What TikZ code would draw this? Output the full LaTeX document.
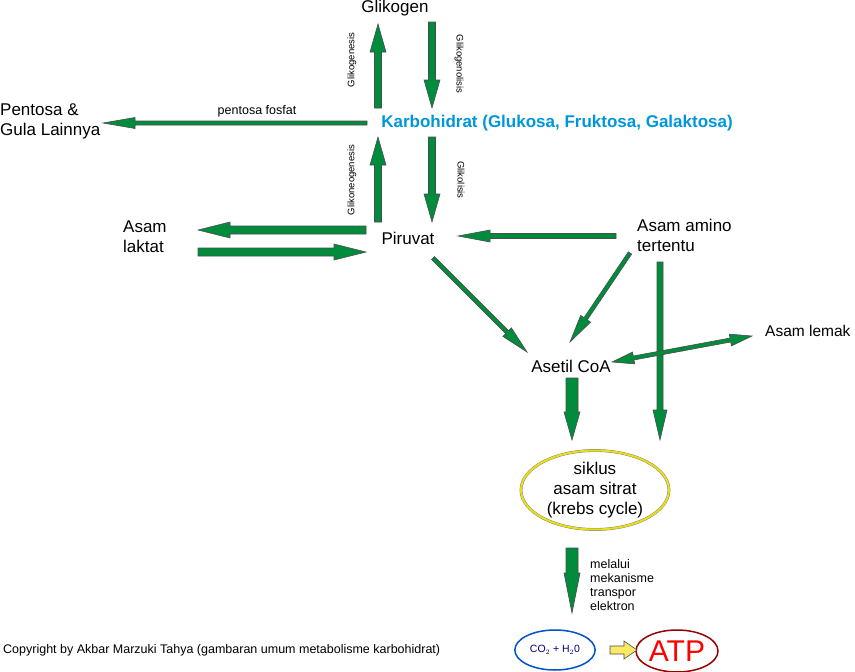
\documentclass[tikz,border=0pt]{standalone}
\usepackage{fontspec}
\setmainfont{Liberation Sans}
\usetikzlibrary{positioning, calc, shapes.geometric}

\definecolor{arrgreen}{RGB}{0,140,60}
\definecolor{karbo}{RGB}{0,150,220}

% block arrow: from, to, half shaft, head length, half head
\newcommand{\barr}[6][arrgreen]{%
  \coordinate (s) at ($(#3)!#5!(#2)$);
  \filldraw[fill=#1, draw=black!70, line width=0.6pt, line join=miter]
    ($(#2)!#4!90:(#3)$) -- ($(s)!#4!-90:(#2)$) -- ($(s)!#6!-90:(#2)$)
    -- (#3) -- ($(s)!#6!90:(#2)$) -- ($(s)!#4!90:(#2)$)
    -- ($(#2)!#4!-90:(#3)$) -- cycle;}

\begin{document}
\begin{tikzpicture}[x=1pt, y=-1pt,
	lbl/.style={font=\fontsize{17}{20}\selectfont, align=left, inner sep=0pt},
	small/.style={font=\fontsize{12.5}{14.3}\selectfont, align=left, inner sep=0pt},
	tiny/.style={font=\fontsize{9.5}{10}\selectfont, inner sep=0pt}
	]
	\useasboundingbox (0,0) rectangle (855,672);

	\node[lbl] (glik) at (395,8) {Glikogen};
	\node[lbl, font=\fontsize{17}{20}\selectfont\bfseries, text=karbo] (karb) at (557,123) {Karbohidrat (Glukosa, Fruktosa, Galaktosa)};
	\node[lbl, anchor=west] (pent) at (0,121) {Pentosa \&\\Gula Lainnya};
	\node[lbl] (piru) at (408,238) {Piruvat};
	\node[lbl, anchor=west] (lakt) at (123,237) {Asam\\laktat};
	\node[lbl, anchor=west] (amino) at (637,235) {Asam amino\\tertentu};
	\node[lbl] (aset) at (571,366) {Asetil CoA};
	\node[lbl, anchor=west, font=\fontsize{15.5}{18}\selectfont] (lemak) at (765,331) {Asam lemak};
	\node[draw=black!50, double=yellow!90!black, double distance=2pt, ellipse, fill=white,
		minimum width=148pt, minimum height=70pt, lbl, align=center] (krebs) at (595,490)
		{siklus\\asam sitrat\\(krebs cycle)};
	\node[small, anchor=west] (trans) at (590,585) {melalui\\mekanisme\\transpor\\elektron};
	\node[draw=blue!60!cyan!80!black, line width=1.5pt, ellipse, minimum width=80pt, minimum height=40pt,
		font=\fontsize{10.5}{12}\selectfont, text=blue!50!black] (co2) at (555,650) {CO$_2$ + H$_2$0};
	\node[draw=red!60!black, line width=1.5pt, ellipse, minimum width=82pt, minimum height=42pt,
		font=\fontsize{30}{32}\selectfont, text=red, inner sep=0pt] (atp) at (677,651) {ATP};
	\node[small, anchor=west] (copy) at (3,650) {Copyright by Akbar Marzuki Tahya (gambaran umum metabolisme karbohidrat)};

	% arrows
	\coordinate (a1) at (378,108); \coordinate (a2) at (378,24);
	\barr{a1}{a2}{3.5pt}{28pt}{8pt}
	\coordinate (a1) at (432,22); \coordinate (a2) at (432,108);
	\barr{a1}{a2}{3.5pt}{28pt}{8pt}
	\coordinate (a1) at (378,222); \coordinate (a2) at (378,137);
	\barr{a1}{a2}{3.5pt}{28pt}{8pt}
	\coordinate (a1) at (432,137); \coordinate (a2) at (432,222);
	\barr{a1}{a2}{3.5pt}{28pt}{8pt}
	\coordinate (a1) at (367,123); \coordinate (a2) at (103,123);
	\barr{a1}{a2}{2pt}{32pt}{5.5pt}
	\coordinate (a1) at (366,230); \coordinate (a2) at (198,230);
	\barr{a1}{a2}{4pt}{32pt}{8pt}
	\coordinate (a1) at (198,252); \coordinate (a2) at (366,252);
	\barr{a1}{a2}{4pt}{32pt}{8pt}
	\coordinate (a1) at (616,236); \coordinate (a2) at (458,236);
	\barr{a1}{a2}{2.5pt}{32pt}{6pt}
	\coordinate (a1) at (433,258); \coordinate (a2) at (527,352);
	\barr{a1}{a2}{2pt}{28pt}{6pt}
	\coordinate (a1) at (630,253); \coordinate (a2) at (570,342);
	\barr{a1}{a2}{2pt}{28pt}{6pt}
	\coordinate (a1) at (660,262); \coordinate (a2) at (660,440);
	\barr{a1}{a2}{3pt}{30pt}{7pt}
	\coordinate (a1) at (572,378); \coordinate (a2) at (572,440);
	\barr{a1}{a2}{6pt}{28pt}{8pt}
	\coordinate (a1) at (572,548); \coordinate (a2) at (572,613);
	\barr{a1}{a2}{6pt}{40pt}{8pt}
	\coordinate (a1) at (682,349); \coordinate (a2) at (612,362);
	\barr{a1}{a2}{2pt}{22pt}{6pt}
	\coordinate (a1) at (682,349); \coordinate (a2) at (752,336);
	\barr{a1}{a2}{2pt}{22pt}{6pt}
	\coordinate (a1) at (610,650); \coordinate (a2) at (637,650);
	\barr[yellow!80!orange!60]{a1}{a2}{4pt}{13pt}{9pt}

	% side labels
	\node[small] at (257,111) {pentosa fosfat};
	\node[tiny, rotate=90] at (352,60) {Glikogenesis};
	\node[tiny, rotate=-90] at (459,64) {Glikogenolisis};
	\node[tiny, rotate=90] at (352,180) {Glikoneogenesis};
	\node[tiny, rotate=-90] at (461,180) {Glikolisis};
\end{tikzpicture}
\end{document}
